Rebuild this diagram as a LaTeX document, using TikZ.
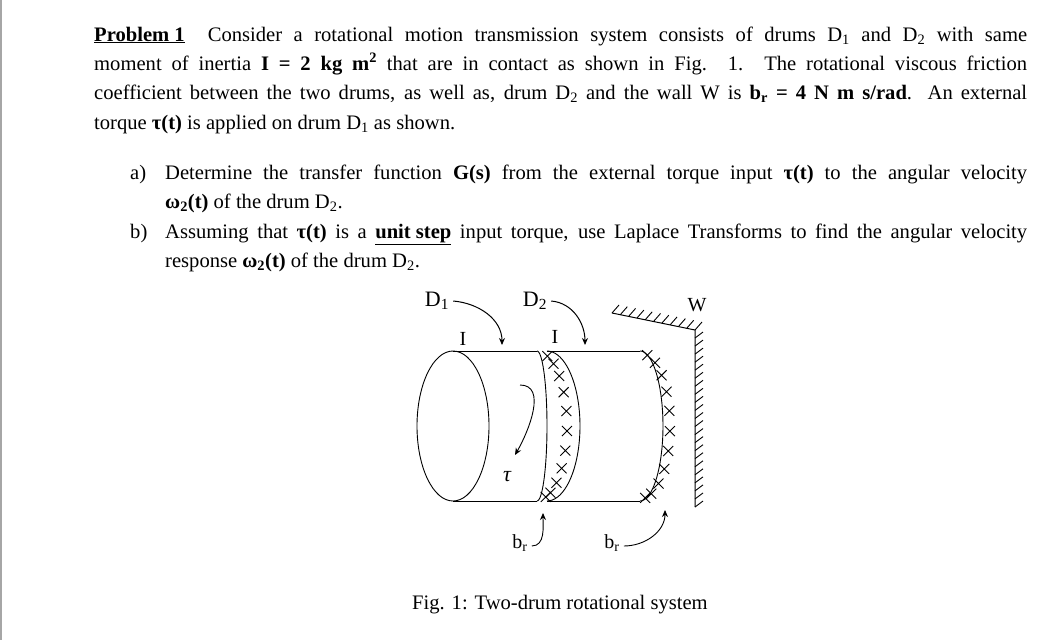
\documentclass[tikz,border=0pt]{standalone}
\usepackage{fontspec}
\setmainfont{Liberation Serif}
\usetikzlibrary{arrows.meta,calc}
\newcommand{\fullline}[1]{\makebox[933pt][s]{#1}}
\begin{document}
\begin{tikzpicture}[x=1pt,y=-1pt,
  txt/.style={anchor=base west,inner sep=0pt,font=\fontsize{20.6pt}{24pt}\selectfont},
  lbl/.style={inner sep=0pt,font=\fontsize{20pt}{22pt}\selectfont},
  arr/.style={-{Stealth[length=7pt,width=6pt]},line width=1pt},
  xm/.style={line width=0.9pt}]
\useasboundingbox (0,0) rectangle (1053,640);
\fill[white] (0,0) rectangle (1053,640);
\draw[gray!70,line width=2pt] (1,0) -- (1,640);
% text
\node[txt] (l1) at (94,41) {\fullline{\textbf{\underline{Problem 1}} \ Consider a rotational motion transmission system consists of drums D\textsubscript{1} and D\textsubscript{2} with same}};
\node[txt] (l2) at (94,70) {\fullline{moment of inertia \textbf{I = 2 kg m\textsuperscript{2}} that are in contact as shown in Fig. 1. The rotational viscous friction}};
\node[txt] (l3) at (94,99) {\fullline{coefficient between the two drums, as well as, drum D\textsubscript{2} and the wall W is \textbf{b\textsubscript{r} = 4 N m s/rad}. An external}};
\node[txt] (l4) at (94,129) {torque \textbf{τ(t)} is applied on drum D\textsubscript{1} as shown.};
\node[txt] (a) at (130,179) {a)};
\node[txt] (a1) at (165,179) {\makebox[862pt][s]{Determine the transfer function \textbf{G(s)} from the external torque input \textbf{τ(t)} to the angular velocity}};
\node[txt] (a2) at (165,208) {\textbf{ω\textsubscript{2}(t)} of the drum D\textsubscript{2}.};
\node[txt] (b) at (130,238) {b)};
\node[txt] (b1) at (165,238) {\makebox[862pt][s]{Assuming that \textbf{τ(t)} is a \textbf{\underline{unit step}} input torque, use Laplace Transforms to find the angular velocity}};
\node[txt] (b2) at (165,267) {response \textbf{ω\textsubscript{2}(t)} of the drum D\textsubscript{2}.};
% drum 1
\draw[line width=0.9pt] (453,426) ellipse [x radius=36,y radius=75];
\draw[line width=0.9pt] (453,351) -- (537,351) (453,501) -- (537,501);
\draw[line width=0.9pt] plot[domain=-90:90,samples=40] ({537+10*cos(\x)},{426+75*sin(\x)});
% drum 2
\draw[line width=0.9pt] plot[domain=-90:90,samples=40] ({547+33*cos(\x)},{426+75*sin(\x)});
\draw[line width=0.9pt] (547,351) -- (640,351) (547,501) -- (640,501);
\draw[line width=0.9pt] plot[domain=-90:90,samples=40] ({640+23*cos(\x)},{426+75*sin(\x)});
% crosses band
\foreach \t in {-76,-60,-44,-28,-12,4,20,36,52,68,80}{
  \path ({542+(21+4*cos(\t))*cos(\t)},{426+72*sin(\t)}) coordinate (c);
  \draw[xm] ($(c)+(-5,-5)$) -- ($(c)+(5,5)$) ($(c)+(-5,5)$) -- ($(c)+(5,-5)$);
}
\foreach \t in {-76,-60,-44,-28,-12,4,20,36,52,68,80}{
  \path ({640+(23+7)*cos(\t)},{426+73*sin(\t)}) coordinate (c);
  \draw[xm] ($(c)+(-5,-5)$) -- ($(c)+(5,5)$) ($(c)+(-5,5)$) -- ($(c)+(5,-5)$);
}
% wall
\coordinate (w1) at (612,313); \coordinate (w2) at (695,330); \coordinate (w3) at (695,507);
\draw[line width=1pt] (w1) -- (w2) -- (w3);
\foreach \i in {0,...,10}{
  \draw[line width=0.9pt] ($(w1)!\i/10!(w2)$) -- ++(7,-8);
}
\foreach \i in {1,...,22}{
  \draw[line width=0.9pt] ($(w2)!\i/22!(w3)$) -- ++(8,-6);
}
\node[lbl] (W) at (697,305) {W};
% labels
\node[lbl,font=\fontsize{22pt}{22pt}\selectfont] (D1) at (437,301) {D\textsubscript{1}};
\node[lbl,font=\fontsize{22pt}{22pt}\selectfont] (D2) at (535,301) {D\textsubscript{2}};
\coordinate (d1t) at (502,345); \coordinate (d2t) at (585,345);
\draw[arr] ($(D1.east)+(4,0)$) to[out=-5,in=90] (d1t);
\draw[arr] ($(D2.east)+(4,0)$) to[out=-5,in=90] (d2t);
\node[lbl] (I1) at (463,339) {I};
\node[lbl] (I2) at (555,337) {I};
\node[lbl,font=\fontsize{22pt}{22pt}\selectfont\itshape] (tau) at (507,477) {τ};
\coordinate (ts) at (520,385); \coordinate (te) at (515,455);
\draw[arr,line width=0.9pt] (ts) to[out=0,in=60] (te);
\node[lbl] (br1) at (520,543) {b\textsubscript{r}};
\node[lbl] (br2) at (612,543) {b\textsubscript{r}};
\coordinate (a1e) at (543,513); \coordinate (a2e) at (665,510);
\draw[arr,line width=0.9pt] ($(br1.east)+(4,3)$) to[out=0,in=-90] (a1e);
\draw[arr,line width=0.9pt] ($(br2.east)+(4,3)$) to[out=0,in=-90] (a2e);
\node[lbl,font=\fontsize{20.6pt}{22pt}\selectfont] (cap) at (560,605) {Fig. 1: Two-drum rotational system};
\end{tikzpicture}
\end{document}
